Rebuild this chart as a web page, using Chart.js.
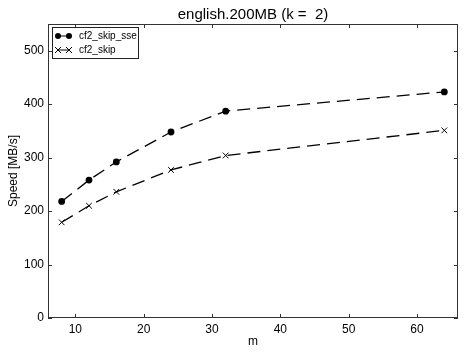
<!DOCTYPE html>
<html>
<head>
<meta charset="utf-8">
<script src="https://cdn.jsdelivr.net/npm/chart.js@4/dist/chart.umd.min.js"></script>
<style>
  html, body { margin: 0; padding: 0; background: #fff; }
  #wrap { width: 474px; height: 355px; }
</style>
</head>
<body>
<div id="wrap"><canvas id="chart" width="474" height="355"></canvas></div>
<script>
// values
const m_values = [8, 12, 16, 24, 32, 64];
const skip_sse_speed = [218, 258, 292, 348, 387, 423];
const skip_speed = [179, 210, 236, 277, 304, 351];
const x_ticks = [10, 20, 30, 40, 50, 60];
const y_ticks = [0, 100, 200, 300, 400, 500];

const font_family = "'Liberation Sans', Arial, sans-serif";

function toPoints(xs, ys) {
  let pts = [];
  for (let i = 0; i < xs.length; i++) {
    pts.push({ x : xs[i], y : ys[i] });
  }
  return pts;
}

// frame, inward ticks, title and legend drawn on top of the chart
const frame_plugin = {
  id : "frame",
  afterDraw (chart) {
    const ctx = chart.ctx;
    const area = chart.chartArea;
    const xs = chart.scales.x;
    const ys = chart.scales.y;
    ctx.save();
    ctx.strokeStyle = "#333";
    ctx.lineWidth = 1;
    ctx.strokeRect(area.left + 0.5, area.top + 0.5, area.right - area.left - 1, area.bottom - area.top - 1);

    ctx.beginPath();
    x_ticks.forEach(function (v) {
      let px = Math.round(xs.getPixelForValue(v)) + 0.5;
      ctx.moveTo(px, area.bottom);
      ctx.lineTo(px, area.bottom - 4);
      ctx.moveTo(px, area.top);
      ctx.lineTo(px, area.top + 4);
    });
    y_ticks.forEach(function (v) {
      let py = Math.round(ys.getPixelForValue(v)) + 0.5;
      ctx.moveTo(area.left, py);
      ctx.lineTo(area.left + 4, py);
      ctx.moveTo(area.right, py);
      ctx.lineTo(area.right - 4, py);
    });
    ctx.stroke();

    // title
    ctx.fillStyle = "#000";
    ctx.font = "15px " + font_family;
    ctx.textAlign = "center";
    ctx.textBaseline = "bottom";
    ctx.fillText("english.200MB (k =  2)", (area.left + area.right) / 2, area.top - 2);

    // legend box
    const lx = area.left + 4;
    const ly = area.top + 3;
    ctx.fillStyle = "#fff";
    ctx.fillRect(lx, ly, 86, 31);
    ctx.strokeStyle = "#222";
    ctx.strokeRect(lx + 0.5, ly + 0.5, 86, 31);

    const rows = [
      { label : "cf2_skip_sse", marker : "dot", y : ly + 9 },
      { label : "cf2_skip", marker : "cross", y : ly + 23 }
    ];
    rows.forEach(function (r) {
      ctx.strokeStyle = "#000";
      ctx.lineWidth = 1;
      ctx.beginPath();
      ctx.moveTo(lx + 6, r.y);
      ctx.lineTo(lx + 17, r.y);
      ctx.stroke();
      [lx + 6, lx + 17].forEach(function (mx) {
        if (r.marker == "dot") {
          ctx.fillStyle = "#000";
          ctx.beginPath();
          ctx.arc(mx, r.y, 3, 0, Math.PI * 2);
          ctx.fill();
        } else {
          ctx.beginPath();
          ctx.moveTo(mx - 3, r.y - 3);
          ctx.lineTo(mx + 3, r.y + 3);
          ctx.moveTo(mx - 3, r.y + 3);
          ctx.lineTo(mx + 3, r.y - 3);
          ctx.stroke();
        }
      });
      ctx.fillStyle = "#000";
      ctx.font = "10px " + font_family;
      ctx.textAlign = "left";
      ctx.textBaseline = "middle";
      ctx.fillText(r.label, lx + 27, r.y);
    });
    ctx.restore();
  }
};

const white_bg = {
  id : "whitebg",
  beforeDraw (chart) {
    const ctx = chart.ctx;
    ctx.save();
    ctx.fillStyle = "#fff";
    ctx.fillRect(0, 0, chart.width, chart.height);
    ctx.restore();
  }
};

new Chart(document.getElementById("chart"), {
  type : "line",
  data : {
    datasets : [{
      label : "cf2_skip_sse",
      data : toPoints(m_values, skip_sse_speed),
      borderColor : "#000",
      backgroundColor : "#000",
      borderWidth : 1.3,
      borderDash : [13, 7],
      pointStyle : "circle",
      pointRadius : 3.4,
      pointBorderWidth : 0,
      fill : false,
      tension : 0
    }, {
      label : "cf2_skip",
      data : toPoints(m_values, skip_speed),
      borderColor : "#000",
      backgroundColor : "#000",
      borderWidth : 1.3,
      borderDash : [13, 7],
      pointStyle : "crossRot",
      pointRadius : 4,
      pointBorderWidth : 1,
      fill : false,
      tension : 0
    }]
  },
  options : {
    responsive : false,
    animation : false,
    layout : {
      padding : { top : 24, right : 16, left : 0, bottom : 0 }
    },
    plugins : {
      legend : { display : false },
      title : { display : false },
      tooltip : { enabled : false }
    },
    scales : {
      x : {
        type : "linear",
        min : 6,
        max : 66,
        afterBuildTicks : function (scale) {
          scale.ticks = x_ticks.map(function (v) { return { value : v }; });
        },
        afterFit : function (scale) { scale.height = 37; },
        grid : { display : false, drawTicks : false, tickLength : 0 },
        border : { display : false },
        ticks : {
          color : "#000",
          padding : 4,
          font : { family : font_family, size : 12 }
        },
        title : {
          display : true,
          text : "m",
          color : "#000",
          padding : { top : 2, bottom : 6 },
          font : { family : font_family, size : 12 }
        }
      },
      y : {
        type : "linear",
        min : 0,
        max : 550,
        afterBuildTicks : function (scale) {
          scale.ticks = y_ticks.map(function (v) { return { value : v }; });
        },
        afterFit : function (scale) { scale.width = 48; },
        grid : { display : false, drawTicks : false, tickLength : 0 },
        border : { display : false },
        ticks : {
          color : "#000",
          padding : 4,
          font : { family : font_family, size : 12 }
        },
        title : {
          display : true,
          text : "Speed [MB/s]",
          color : "#000",
          padding : { top : 6, bottom : 0 },
          font : { family : font_family, size : 12 }
        }
      }
    }
  },
  plugins : [white_bg, frame_plugin]
});
</script>
</body>
</html>
